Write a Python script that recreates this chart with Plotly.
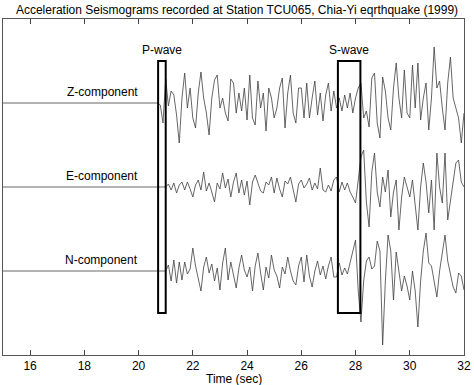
import numpy as np
import plotly.graph_objects as go

# Sampling grid of the active part of the records (s); the quiet part starts at 15 s
t_start, t_quiet_end, t_end, dt = 15.0, 20.7, 32.0, 0.1

# Relative acceleration amplitudes, one row per second
z_comp = ([0, -2, -20] +
          [24, -3, 12, 8, -12, -40, 5, 30, -5, 15] +        # 21
          [-15, -25, 10, 31, 5, -10, -32, 5, 23, 28] +       # 22
          [-5, 5, -10, -18, 24, 20, -10, 10, -8, 15] +       # 23
          [-17, 28, -15, -22, 22, -5, 10, -28, 15, 5] +      # 24
          [-15, -5, 15, 25, -25, 10, 28, -10, -20, 15] +     # 25
          [15, -15, 20, -15, 5, 22, -12, 10, -18, 8] +       # 26
          [20, -8, 12, -5, 5, -8, 8, -5, 10, -10] +          # 27
          [5, 15, 20, -15, -8, -24, 25, 30, -20, -35] +      # 28
          [26, 12, -15, -27, 15, 40, 5, -15, 33, -10] +      # 29
          [-15, 38, -5, 40, -17, 5, 20, -27, 5, 56] +        # 30
          [15, 22, -5, -27, 20, 46, 5, -5, -15, -40] +       # 31
          [-10])
e_comp = ([0, 0, 0] +
          [0, 3, -3, 4, -6, 2, 5, -3, 5, -2] +
          [-10, 2, 7, -3, 15, -4, 4, -5, -15, 4] +
          [-2, 14, -1, 8, -10, 5, 14, -6, 7, -8] +
          [6, -18, 5, 12, 3, -4, -6, 5, 2, 10] +
          [-6, 9, -2, -10, 6, 3, 10, -2, -15, 3] +
          [7, -1, 3, 9, -3, 4, -2, 19, -3, -5] +
          [2, -4, 7, 10, -5, 5, -3, 4, -5, -10] +
          [-16, 7, 30, 37, -15, -40, 15, 34, -5, -20] +
          [10, -5, 17, -30, -5, 7, -43, -10, 10, 0] +
          [-10, 7, -15, -43, 0, 24, 5, -26, 7, -43] +
          [34, 0, -16, 34, -33, -16, 5, 24, 27, 5] +
          [0])
n_comp = ([0, 0, 0] +
          [0, 6, -10, 11, -12, 9, -9, 9, -3, 2] +
          [23, 5, -8, -20, 4, 14, -2, 7, -10, 3] +
          [-19, 8, 23, -9, 9, -4, -17, 3, 16, 1] +
          [-6, 4, -20, 5, 18, -2, -19, 4, -7, 16] +
          [1, -5, -17, 4, -3, 14, 0, -10, -14, 5] +
          [14, -11, 16, -5, -16, 0, 10, -4, 5, -8] +
          [5, 14, -6, -6, 8, -4, 3, -3, 8, 20] +
          [31, -20, -51, -10, 10, 14, 2, 5, 30, 20] +
          [-74, -10, 36, 20, -29, 19, 0, -20, -5, -15] +
          [-29, 0, -20, -56, -10, 20, 38, 8, 5, -10] +
          [-26, 0, 20, 36, 10, -5, -16, -22, -2, -5] +
          [-19])

components = ["Z-component", "E-component", "N-component"]
offsets = [252, 168, 84]
series = [z_comp, e_comp, n_comp]

p_wave = [20.72, 21.0]
s_wave = [27.35, 28.18]
box_y = [42, 294]
x_ticks = [16, 18, 20, 22, 24, 26, 28, 30, 32]

FONT = "Liberation Sans, Arial, sans-serif"
t_active = np.round(t_quiet_end + dt * np.arange(len(z_comp)), 2)

fig = go.Figure()
for name, off, vals in zip(components, offsets, series):
    n = min(len(vals), len(t_active))
    x = [t_start] + list(t_active[:n])
    y = [off] + [off + v for v in vals[:n]]
    fig.add_trace(go.Scatter(x=x, y=y, mode="lines", name=name,
                             line=dict(color="#404040", width=0.8),
                             hoverinfo="skip"))
    fig.add_annotation(x=20.07, y=off + 2, xref="x", yref="y", text=name,
                       showarrow=False, xanchor="right", yanchor="bottom",
                       font=dict(family=FONT, size=12, color="black"))

for (x0, x1), lab in [(p_wave, "P-wave"), (s_wave, "S-wave")]:
    fig.add_shape(type="rect", x0=x0, x1=x1, y0=box_y[0], y1=box_y[1],
                  xref="x", yref="y", line=dict(color="black", width=2))
    fig.add_annotation(x=(x0 + x1) / 2, y=box_y[1] + 2, xref="x", yref="y",
                       text=lab, showarrow=False, yanchor="bottom",
                       font=dict(family=FONT, size=12, color="black"))

fig.add_annotation(x=23.5, y=-0.071, xref="x", yref="paper", text="Time (sec)",
                   showarrow=False, yanchor="middle",
                   font=dict(family=FONT, size=12, color="black"))

fig.update_layout(
    width=474, height=385,
    margin=dict(l=3, r=8, t=19, b=30),
    paper_bgcolor="white", plot_bgcolor="white",
    showlegend=False,
    title=dict(text="Acceleration Seismograms recorded at Station TCU065, Chia-Yi eqrthquake (1999)",
               x=0.5, xanchor="center", y=1 - 10 / 385, yanchor="middle",
               yref="container",
               font=dict(family=FONT, size=12, color="black")),
)
fig.update_xaxes(range=[15, 32], tickvals=x_ticks, ticks="inside", ticklen=5,
                 tickcolor="#444", showline=True, linecolor="#555", linewidth=1,
                 mirror="ticks", showgrid=False, zeroline=False,
                 tickfont=dict(family=FONT, size=12, color="black"))
fig.update_yaxes(range=[0, 336], showticklabels=False, ticks="",
                 showline=True, linecolor="#555", linewidth=1, mirror=True,
                 showgrid=False, zeroline=False)

fig.write_html("out.html", config={"displayModeBar": False},
               post_script="document.body.style.margin='0';document.body.style.padding='0';")
